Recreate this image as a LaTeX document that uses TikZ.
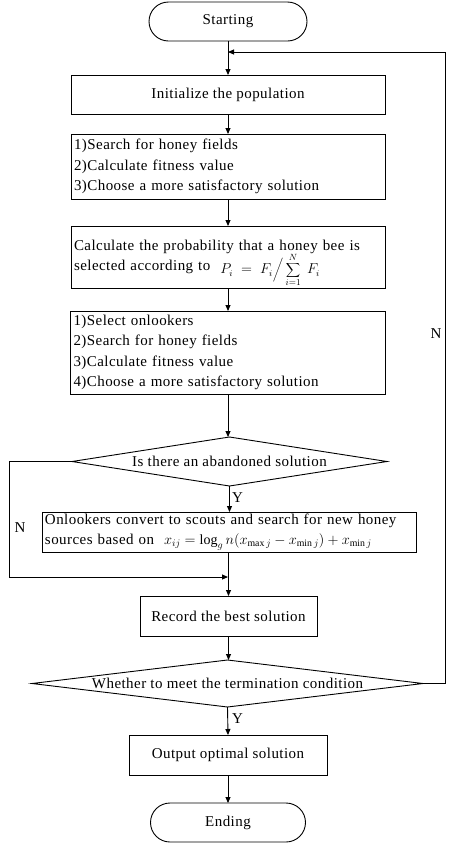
\documentclass[tikz,border=0pt]{standalone}
\usepackage{fontspec}
\setmainfont{Liberation Serif}[LetterSpace=3]
\usetikzlibrary{shapes.geometric,shapes.misc,arrows.meta}
\begin{document}
\begin{tikzpicture}[x=1pt,y=-1pt,
  font=\fontsize{15}{20.5}\selectfont,
  every node/.style={inner sep=0pt, outer sep=0pt},
  box/.style={draw, line width=0.9pt, rectangle},
  lbox/.style={box, align=left, inner xsep=3pt, text width=#1-6pt},
  term/.style={draw, line width=0.9pt, rounded rectangle},
  dia/.style={draw, line width=0.9pt, diamond, inner sep=0pt},
  arr/.style={line width=0.9pt, -{Triangle[length=6pt,width=5pt]}},
  lab/.style={font=\fontsize{15}{16}\selectfont}
]
\useasboundingbox (0,0) rectangle (474,844);

\node[term, minimum width=158, minimum height=39] (start) at (228,21.5) {Starting};
\node[box, minimum width=314, minimum height=39] (init) at (228,94.5) {Initialize the population};
\node[lbox=314, minimum height=65] (search) at (228,166.5) {1)Search for honey fields\\2)Calculate fitness value\\3)Choose a more satisfactory solution};
\node[lbox=314, minimum height=62] (prob) at (228,257) {Calculate the probability that a honey bee is\\selected according to\ \ \smash{\raisebox{-3pt}{\fontsize{13.5}{13.5}\selectfont$\displaystyle P_i \;=\; F_i \bigg/ \sum_{i=1}^{N} \; F_i$}}};
\node[lbox=315, minimum height=83] (onl) at (228,352.5) {1)Select onlookers\\2)Search for honey fields\\3)Calculate fitness value\\4)Choose a more satisfactory solution};
\node[dia, minimum width=315, minimum height=49] (d1) at (229.5,461.5) {};
\node (d1t) at (d1.center) {Is there an abandoned solution};
\node[lbox=374, minimum height=40] (scout) at (229,532) {Onlookers convert to scouts and search for new honey\\sources based on\ \ {\fontsize{14}{14}\selectfont$x_{ij} = \log_g n(x_{\mathrm{max}\,j} - x_{\mathrm{min}\,j}) + x_{\mathrm{min}\,j}$}};
\node[box, minimum width=177, minimum height=40] (rec) at (228.5,616) {Record the best solution};
\node[dia, minimum width=391, minimum height=47] (d2) at (227.5,683.5) {};
\node (d2t) at (d2.center) {Whether to meet the termination condition};
\node[box, minimum width=198, minimum height=40] (out) at (228,755) {Output optimal solution};
\node[term, minimum width=155, minimum height=39] (end) at (228,822.5) {Ending};

\coordinate (jt) at (228,52);
\coordinate (rc) at (445,52);
\coordinate (lc) at (9,461.5);
\coordinate (jb) at (228,577);

\draw[arr] (start.south) -- (init.north);
\draw[arr] (init.south) -- (search.north);
\draw[arr] (search.south) -- (prob.north);
\draw[arr] (prob.south) -- (onl.north);
\draw[arr] (onl.south) -- (onl.south |- d1.north);
\draw[arr] (d1.south) -- (d1.south |- scout.north);
\draw[arr] (scout.south -| rec.north) -- (rec.north);
\draw[arr] (d1.west) -- (lc) |- (jb);
\draw[arr] (rec.south) -- (rec.south |- d2.north);
\draw[arr] (d2.south) -- (out.north);
\draw[arr] (out.south) -- (end.north);
\draw[arr] (d2.east) -| (rc) -- (jt);

\node[lab, anchor=west] (y1) at (232,498) {Y};
\node[lab] (n1) at (20,528) {N};
\node[lab, anchor=west] (y2) at (232,719) {Y};
\node[lab] (n2) at (436,334) {N};
\end{tikzpicture}
\end{document}
